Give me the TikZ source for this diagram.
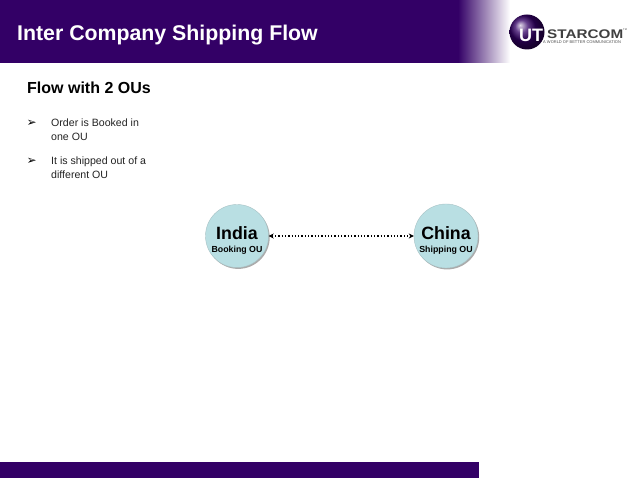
\documentclass[tikz,border=0pt]{standalone}
\usepackage{fontspec}
\setmainfont{Liberation Sans}
\newfontfamily\dingfont{DejaVu Sans}
\usetikzlibrary{shadows,arrows.meta}
\definecolor{headpurple}{HTML}{330066}
\definecolor{oufill}{HTML}{B9DFE3}
\definecolor{bodytext}{HTML}{222222}
\tikzset{
    ou/.style={circle, draw=oufill!70!gray, line width=0.4pt, fill=oufill, minimum size=63pt, inner sep=0pt, align=center, text=black,
        drop shadow={shadow xshift=1.2pt, shadow yshift=-1.4pt, fill=black!55, opacity=0.6}},
    bullet/.style={anchor=west, inner sep=0pt, font=\dingfont\fontsize{12}{12}\selectfont, text=black},
    bodytxt/.style={anchor=north west, inner sep=0pt, align=left, text=bodytext, font=\fontsize{10.6}{13.8}\selectfont}
}
\newcommand{\oulabel}[2]{{\bfseries\fontsize{17.8}{18}\selectfont\rule{0pt}{21pt}#1}\\[1pt]{\bfseries\fontsize{8.8}{11}\selectfont #2}}
\begin{document}
\begin{tikzpicture}[x=1pt, y=-1pt]
    \useasboundingbox (0, 0) rectangle (638, 478);
    % header and footer bands
    \shade[left color=headpurple, right color=white] (458, 0) rectangle (510, 63);
    \fill[headpurple] (0, 0) rectangle (459, 63.5);
    \fill[headpurple] (0, 462) rectangle (478.5, 478);
    \node[anchor=west, inner sep=0pt, text=white, font=\bfseries\fontsize{21.3}{24}\selectfont] (title) at (17, 35) {Inter Company Shipping Flow};
    % logo
    \shade[ball color=headpurple] (527, 32) circle (17.5);
    \node[anchor=center, inner sep=0pt, text=white, font=\bfseries\fontsize{18}{20}\selectfont] (logout) at (531, 35) {UT};
    \node[anchor=west, inner sep=0pt, text=black!75, font=\bfseries\fontsize{12.5}{14}\selectfont, xscale=1.22, transform shape] (logostar) at (547, 34.5) {STARCOM};
    \node[anchor=west, inner sep=0pt, text=black!70, font=\fontsize{4}{5}\selectfont] (logotag) at (543, 42.5) {A WORLD OF BETTER COMMUNICATION};
    \node[anchor=west, inner sep=0pt, text=black!70, font=\fontsize{2.6}{3}\selectfont] (logotm) at (623, 30) {TM};
    % left text
    \node[anchor=west, inner sep=0pt, text=black, font=\bfseries\fontsize{16}{18}\selectfont] (subtitle) at (27, 88) {Flow with 2 OUs};
    \node[bullet] (arrowone) at (26.5, 123) {➢};
    \node[bodytxt] (bookedtxt) at (51, 118.5) {Order is Booked in\\one OU};
    \node[bullet] (arrowtwo) at (26.5, 161) {➢};
    \node[bodytxt] (shippedtxt) at (51, 156.5) {It is shipped out of a\\different OU};
    % OUs
    \node[ou] (india) at (237, 236) {\oulabel{India}{Booking OU}};
    \node[ou] (china) at (446, 236) {\oulabel{China}{Shipping OU}};
    \draw[{Stealth[length=5pt, width=5pt]}-{Stealth[length=5pt, width=5pt]}, line width=1.3pt, dotted] (india) -- (china);
\end{tikzpicture}
\end{document}
